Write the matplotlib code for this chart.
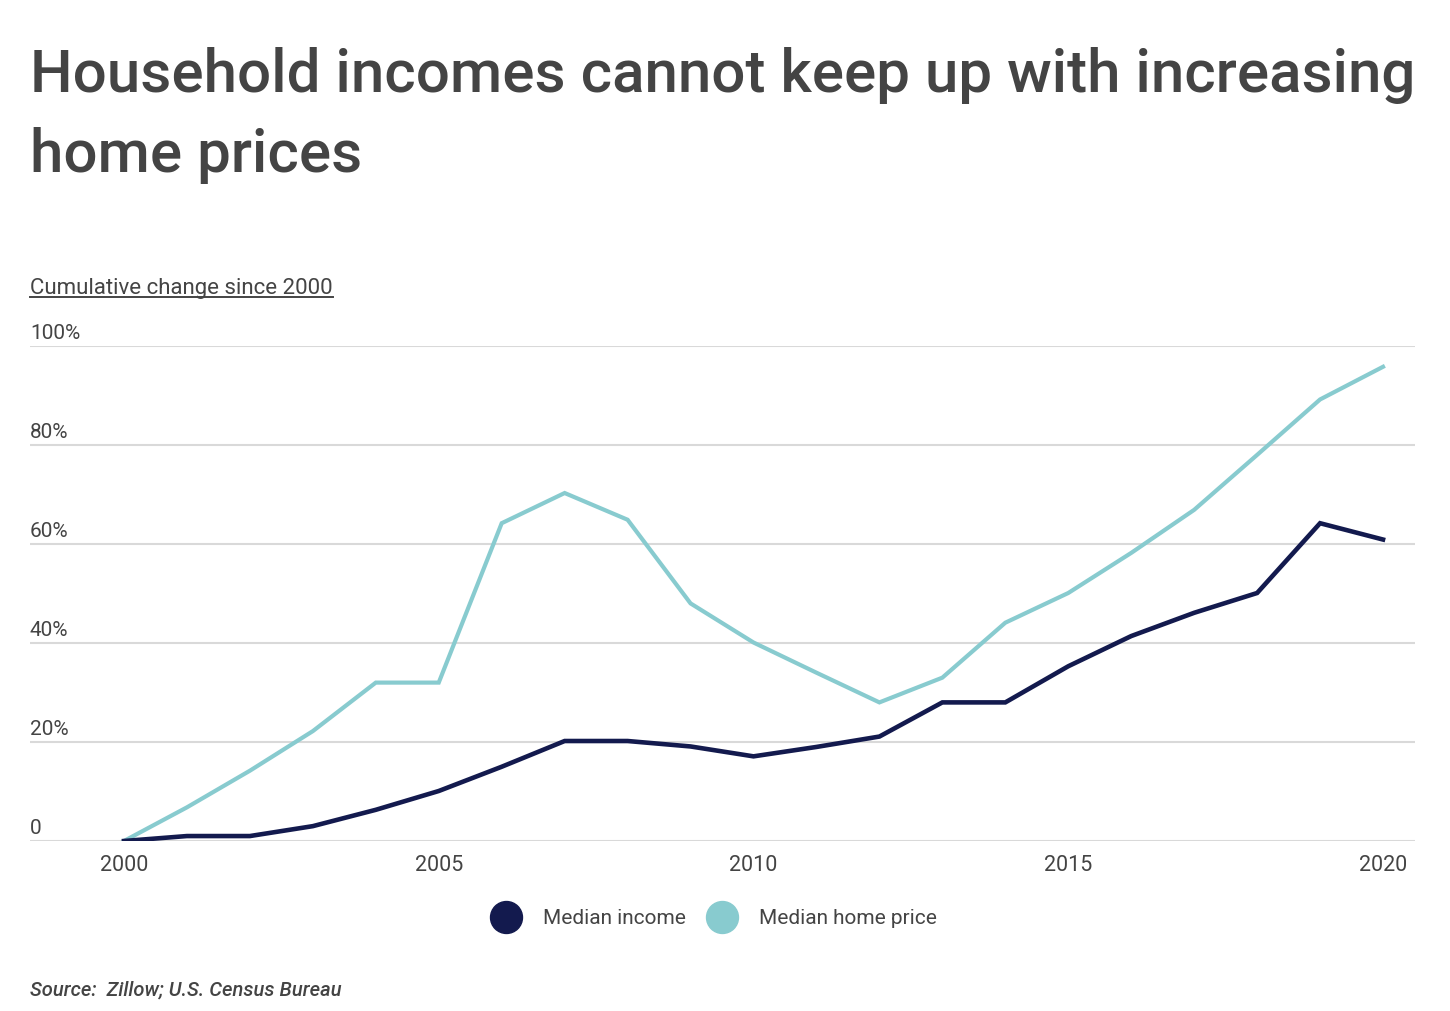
import matplotlib
matplotlib.use("Agg")
import matplotlib.pyplot as plt
from matplotlib.lines import Line2D

plt.rcParams['font.family'] = ['Roboto', 'DejaVu Sans']

years = list(range(2000, 2021))
income = [0, 1, 1, 3, 6.3, 10.1, 15, 20.2, 20.2, 19.1, 17.1,
          19, 21.1, 28, 28, 35.3, 41.4, 46.1, 50.1, 64.2, 60.9]
home_price = [0, 6.8, 14.2, 22.2, 32, 32, 64.2, 70.3, 64.9, 48, 40.1,
              34, 28, 33, 44.1, 50.1, 58.2, 66.9, 78, 89.2, 95.8]
y_ticks = [0, 20, 40, 60, 80, 100]
y_labels = ['0', '20%', '40%', '60%', '80%', '100%']
x_ticks = [2000, 2005, 2010, 2015, 2020]

c_income = '#131a4e'
c_home = '#88cbcf'
c_text = '#444444'

W, H = 1450, 1012
fig = plt.figure(figsize=(W / 100, H / 100), dpi=100)

# axes: x from 30 to 1415 px, y from 347 (100%) to 842 (0)
ax = fig.add_axes([30 / W, 1 - 842 / H, (1415 - 30) / W, (842 - 347) / H])
ax.plot(years, home_price, color=c_home, lw=3.0, solid_joinstyle='miter', zorder=3)
ax.plot(years, income, color=c_income, lw=3.3, solid_joinstyle='miter', zorder=4)

ax.set_xlim(1998.507, 2020.508)
ax.set_ylim(0, 100)
ax.set_yticks(y_ticks)
ax.set_yticklabels([])
ax.tick_params(axis='y', length=0)
ax.set_xticks(x_ticks)
ax.set_xticklabels([str(x) for x in x_ticks], fontsize=15.5, color=c_text)
ax.tick_params(axis='x', length=0, pad=9.5)
ax.grid(axis='y', color='#d9d9d9', lw=1.5, zorder=0)
ax.set_axisbelow(True)
for s in ax.spines.values():
    s.set_visible(False)

# y labels sit above gridlines at the left edge
for v, lab in zip(y_ticks, y_labels):
    ax.annotate(lab, xy=(0, v), xycoords=('axes fraction', 'data'),
                xytext=(0, 3), textcoords='offset points',
                ha='left', va='bottom', fontsize=15, color=c_text)

fig.text(30 / W, 1 - 92 / H, 'Household incomes cannot keep up with increasing',
         fontsize=43.2, color=c_text, fontweight='medium', ha='left', va='baseline')
fig.text(30 / W, 1 - 172 / H, 'home prices',
         fontsize=43.2, color=c_text, fontweight='medium', ha='left', va='baseline')

sub = fig.text(30 / W, 1 - 294 / H, 'Cumulative change since 2000', fontsize=16,
               color=c_text, ha='left', va='baseline')
fig.canvas.draw()
bb = sub.get_window_extent(fig.canvas.get_renderer())
fig.add_artist(Line2D([bb.x0 / W, bb.x1 / W], [1 - 298 / H, 1 - 298 / H],
                      color=c_text, lw=1.4, transform=fig.transFigure))

# legend
fig.add_artist(Line2D([506 / W], [1 - 918 / H], marker='o', markersize=23,
                      color=c_income, transform=fig.transFigure))
fig.text(543 / W, 1 - 919 / H, 'Median income', fontsize=15, color=c_text,
         ha='left', va='center')
fig.add_artist(Line2D([722 / W], [1 - 918 / H], marker='o', markersize=23,
                      color=c_home, transform=fig.transFigure))
fig.text(759 / W, 1 - 919 / H, 'Median home price', fontsize=15, color=c_text,
         ha='left', va='center')

fig.text(30 / W, 1 - 990 / H, 'Source:  Zillow; U.S. Census Bureau', fontsize=14.5,
         color=c_text, style='italic', fontweight='medium', ha='left', va='center')

fig.savefig('out.png', dpi=100)
